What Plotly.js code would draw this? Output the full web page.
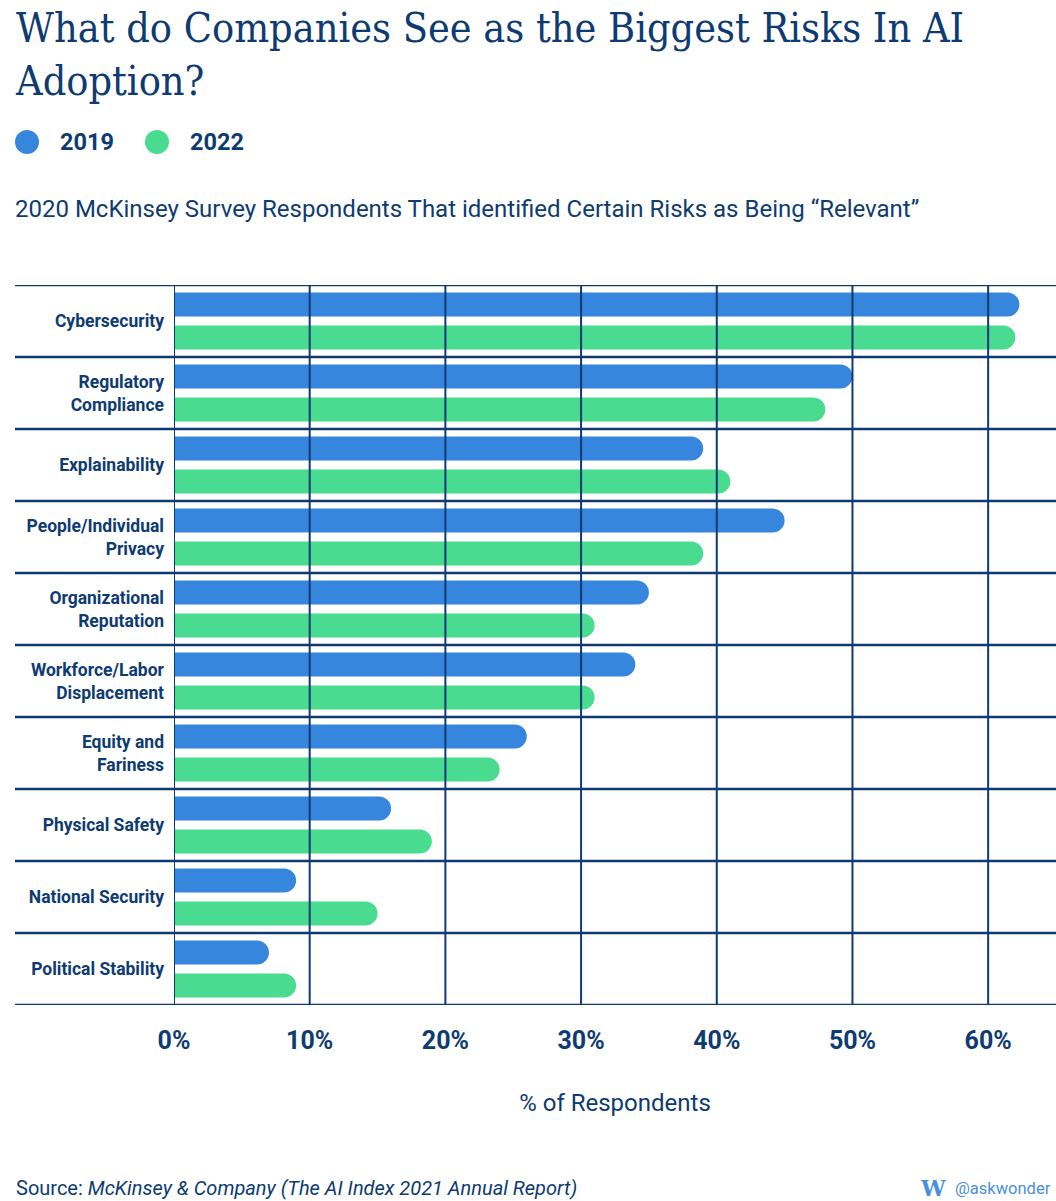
<!DOCTYPE html>
<html>
<head>
<meta charset="utf-8">
<script src="https://cdn.plot.ly/plotly-3.0.1.min.js"></script>
<style>html,body{margin:0;padding:0;background:#fff;}#chart{width:1056px;height:1201px;}</style>
</head>
<body>
<div id="chart"></div>
<script>
const categories = ["Cybersecurity", "Regulatory<br>Compliance", "Explainability", "People/Individual<br>Privacy", "Organizational<br>Reputation", "Workforce/Labor<br>Displacement", "Equity and<br>Fariness", "Physical Safety", "National Security", "Political Stability"];
const values2019 = [62.3, 50, 39, 45, 35, 34, 26, 16, 9, 7];
const values2022 = [62, 48, 41, 39, 31, 31, 24, 19, 15, 9];
const seriesNames = ["2019", "2022"];
const xTicks = [0, 10, 20, 30, 40, 50, 60];
const xTickText = xTicks.map(v => v + '%');

const NAVY = '#0e3b72';
const BLUE = '#3786de';
const GREEN = '#49db8f';
const W = 1056, H = 1201;
const M = {l: 174, r: 0, t: 285, b: 196};
const PW = W - M.l - M.r, PH = H - M.t - M.b;
const px2x = p => (p - M.l) / PW;
const py2y = p => (M.t + PH - p) / PH;

const traces = [
  {type: 'bar', orientation: 'h', name: seriesNames[0], y: categories, x: values2019,
   marker: {color: BLUE, cornerradius: 12}, hoverinfo: 'x+name'},
  {type: 'bar', orientation: 'h', name: seriesNames[1], y: categories, x: values2022,
   marker: {color: GREEN, cornerradius: 12}, hoverinfo: 'x+name'}
];

const shapes = [];
xTicks.forEach(v => shapes.push({type: 'line', xref: 'x', yref: 'paper', x0: v, x1: v, y0: 0, y1: 1,
  line: {color: NAVY, width: 2}, layer: 'above'}));
for (let i = 0; i <= categories.length; i++) {
  shapes.push({type: 'line', xref: 'paper', yref: 'y', x0: px2x(15), x1: 1, y0: i - 0.5, y1: i - 0.5,
    line: {color: NAVY, width: 2.5}, layer: 'above'});
}
[[27, BLUE], [157, GREEN]].forEach(([cx, col]) => shapes.push({type: 'circle', xref: 'paper', yref: 'paper',
  xsizemode: 'pixel', ysizemode: 'pixel', xanchor: px2x(cx), yanchor: py2y(142),
  x0: -12, x1: 12, y0: -12, y1: 12, fillcolor: col, line: {width: 0}}));

const annotations = [
  {text: 'What do Companies See as the Biggest Risks In AI<br>Adoption?', xref: 'paper', yref: 'paper',
   x: px2x(13), y: py2y(2), xanchor: 'left', yanchor: 'top', align: 'left', showarrow: false,
   font: {family: 'DejaVu Serif Condensed, DejaVu Serif', size: 41, color: NAVY}},
  {text: seriesNames[0], xref: 'paper', yref: 'paper', x: px2x(58), y: py2y(142), xanchor: 'left', yanchor: 'middle',
   showarrow: false, font: {family: 'Roboto', size: 23.5, color: NAVY, weight: 'bold'}},
  {text: seriesNames[1], xref: 'paper', yref: 'paper', x: px2x(188), y: py2y(142), xanchor: 'left', yanchor: 'middle',
   showarrow: false, font: {family: 'Roboto', size: 23.5, color: NAVY, weight: 'bold'}},
  {text: '2020 McKinsey Survey Respondents That identified Certain Risks as Being “Relevant”', xref: 'paper', yref: 'paper',
   x: px2x(13), y: py2y(209), xanchor: 'left', yanchor: 'middle', showarrow: false,
   font: {family: 'Roboto', size: 24, color: NAVY}},
  {text: 'Source: <i>McKinsey & Company (The AI Index 2021 Annual Report)</i>', xref: 'paper', yref: 'paper',
   x: px2x(14), y: py2y(1188), xanchor: 'left', yanchor: 'middle', showarrow: false,
   font: {family: 'Roboto', size: 20, color: NAVY}},
  {text: '@askwonder', xref: 'paper', yref: 'paper', x: px2x(1053), y: py2y(1188), xanchor: 'right', yanchor: 'middle',
   showarrow: false, font: {family: 'Roboto', size: 16.5, color: '#4a8fdc'}},
  {text: '<b>W</b>', xref: 'paper', yref: 'paper', x: px2x(933), y: py2y(1188), xanchor: 'center', yanchor: 'middle',
   showarrow: false, font: {family: 'DejaVu Serif', size: 22, color: '#4a8fdc'}}
];

const layout = {
  width: W, height: H,
  margin: M,
  paper_bgcolor: '#fff', plot_bgcolor: '#fff',
  showlegend: false,
  barmode: 'group', bargap: 0.083, bargroupgap: 0.27,
  xaxis: {range: [0, 65], tickmode: 'array', tickvals: xTicks, ticktext: xTickText, showgrid: false, zeroline: false, showline: false,
          ticks: '', ticklabelstandoff: 18, fixedrange: true,
          tickfont: {family: 'Roboto', size: 25, color: NAVY, weight: 'bold'},
          title: {text: '% of Respondents', standoff: 40, font: {family: 'Roboto', size: 24, color: NAVY}}},
  yaxis: {type: 'category', range: [categories.length - 0.5, -0.5], showgrid: false, zeroline: false, showline: false,
          ticks: '', ticklabelstandoff: 9, fixedrange: true,
          tickfont: {family: 'Roboto', size: 17.5, color: NAVY, weight: 'bold'}},
  shapes: shapes,
  annotations: annotations
};

Plotly.newPlot('chart', traces, layout, {displayModeBar: false, staticPlot: true});
</script>
</body>
</html>
